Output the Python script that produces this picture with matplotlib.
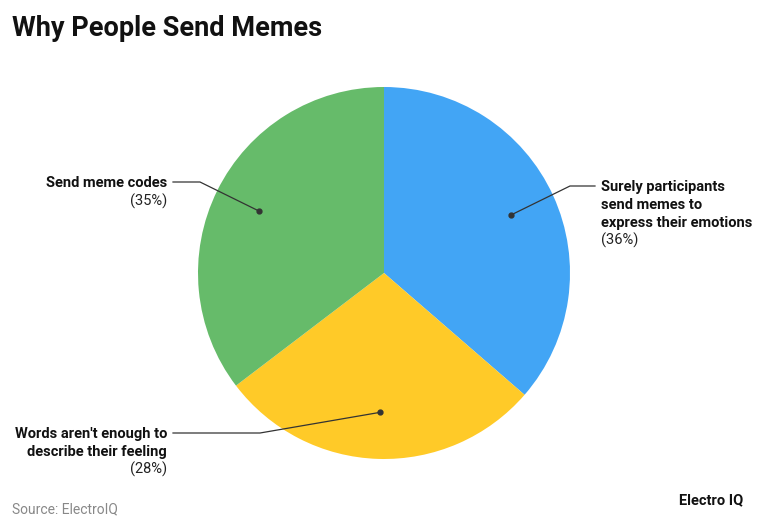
import numpy as np
import matplotlib
matplotlib.use('Agg')
import matplotlib.pyplot as plt

plt.rcParams['font.family'] = ['Roboto', 'DejaVu Sans']

# data
labels = [["Surely participants", "send memes to", "express their emotions"],
          ["Words aren't enough to", "describe their feeling"],
          ["Send meme codes"]]
values = [36, 28, 35]
colors = ['#42A5F5', '#FFCA28', '#66BB6A']

W, H = 768, 529
fig = plt.figure(figsize=(W/100, H/100), dpi=100)
# pie centre at (384, 273) px, radius 186 px
cx, cy, R = 384, 273, 186
ax = fig.add_axes([(cx - R)/W, (H - cy - R)/H, 2*R/W, 2*R/H])
ax.pie(values, colors=colors, startangle=90, counterclock=False, radius=1,
       wedgeprops=dict(linewidth=0))
ax.set_xlim(-1, 1)
ax.set_ylim(-1, 1)
ax.set_aspect('equal')
ax.axis('off')

def px(x, y):
    return (x - cx)/R, (cy - y)/R

# elbow / text anchors (pixels): elbow point, line end, text x, side
layout = [((570, 186), 595, 601, 'left'),
          ((260, 433), 173, 167, 'right'),
          ((200, 182), 173, 167, 'right')]

total = sum(values)
start = 90.0
line_h = 17.7 / R
for i, v in enumerate(values):
    sweep = v / total * 360
    mid = np.deg2rad(start - sweep/2)
    start -= sweep
    dx, dy = 0.75*np.cos(mid), 0.75*np.sin(mid)
    (ex, ey), lx, tx, ha = layout[i]
    ex, ey = px(ex, ey)
    lx = (lx - cx)/R
    tx = (tx - cx)/R
    ax.plot([dx, ex, lx], [dy, ey, ey], color='#333333', lw=0.9, clip_on=False)
    ax.plot(dx, dy, 'o', color='#333333', ms=3.5, clip_on=False)
    lines = labels[i]
    ty = ey - 1.2/R
    for j, t in enumerate(lines):
        ax.text(tx, ty - j*line_h, t, ha=ha, va='center', fontsize=10.5,
                fontweight='bold', color='#111111', clip_on=False)
    ax.text(tx, ty - len(lines)*line_h, f"({v}%)", ha=ha, va='center',
            fontsize=10.5, color='#222222', clip_on=False)

fig.text(12/W, 1 - 28/H, "Why People Send Memes", fontsize=19.5, fontweight='bold',
         ha='left', va='center', color='#111111')
fig.text(12/W, 1 - 509/H, "Source: ElectroIQ", fontsize=10, color='#888888',
         ha='left', va='center')
fig.text(743/W, 1 - 500/H, "Electro IQ", fontsize=10.5, fontweight='bold',
         color='#111111', ha='right', va='center')

fig.savefig('out.png', dpi=100)
